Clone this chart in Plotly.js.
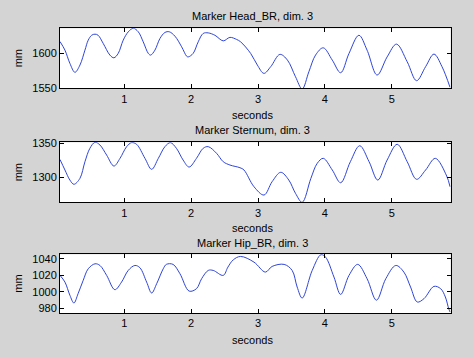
<!DOCTYPE html>
<html><head><meta charset="utf-8">
<script src="https://cdn.plot.ly/plotly-3.0.1.min.js"></script>
<style>html,body{margin:0;padding:0;background:#d4d4d4;}#plot{width:474px;height:357px;}</style>
</head><body><div id="plot"></div>
<script>
const titles = ["Marker Head_BR, dim. 3", "Marker Sternum, dim. 3", "Marker Hip_BR, dim. 3"];
const xLabel = "seconds";
const yLabel = "mm";
const xTicks = [1, 2, 3, 4, 5];
const headTicks = [1550, 1600];
const sternumTicks = [1300, 1350];
const hipTicks = [980, 1000, 1020, 1040];

const headT = [0.04,0.114,0.188,0.263,0.338,0.413,0.462,0.513,0.563,0.61,0.686,0.786,0.846,0.91,0.985,1.06,1.135,1.21,1.284,1.36,1.395,1.459,1.534,1.608,1.673,1.758,1.858,1.933,1.957,2.03,2.106,2.18,2.256,2.356,2.48,2.58,2.68,2.74,2.89,2.99,3.088,3.19,3.327,3.44,3.56,3.66,3.76,3.86,3.975,4.11,4.235,4.36,4.508,4.63,4.78,4.93,5.07,5.23,5.37,5.505,5.63,5.75,5.87];
const headMm = [1617,1604.7,1585.7,1572.9,1583.3,1604.7,1619,1626,1627.6,1626,1614.3,1597.6,1593.7,1600,1619,1630.9,1636,1631,1616.6,1600,1597.6,1604.7,1621.4,1630,1631,1624.7,1609.5,1596,1595,1600,1616.6,1628.6,1629.4,1626,1618,1623,1620,1616.6,1600,1583.3,1571.4,1581,1598.6,1590.4,1566.6,1549,1573.7,1597.6,1608,1590.4,1572.3,1600,1626,1604.7,1569,1595,1613.3,1588,1560.9,1581,1599,1581,1551.4];

const sternumT = [0.04,0.114,0.188,0.248,0.338,0.413,0.487,0.563,0.637,0.737,0.846,0.937,1.036,1.11,1.185,1.31,1.41,1.51,1.608,1.69,1.78,1.88,1.97,2.08,2.18,2.256,2.38,2.48,2.58,2.73,2.79,2.94,3.09,3.21,3.34,3.46,3.56,3.66,3.79,3.885,3.975,4.11,4.235,4.38,4.52,4.66,4.79,4.93,5.08,5.23,5.37,5.505,5.65,5.82,5.87];
const sternumMm = [1326,1310.4,1295.5,1289.2,1298,1322.7,1342.6,1351.5,1347.5,1332.6,1316.3,1327.7,1345,1351,1348.5,1327.7,1311.4,1327.7,1345,1351,1342.6,1325.2,1314.8,1327.7,1342.6,1345,1335.2,1322.7,1317.8,1313.8,1310.4,1285.6,1273.3,1293,1307,1295.5,1275.8,1262.5,1298,1320.3,1327.7,1310.4,1291.5,1322.7,1346.4,1322.7,1295.5,1325.2,1348.5,1322.7,1296.6,1310.4,1327.7,1301.5,1285.6];

const hipT = [0.04,0.114,0.188,0.248,0.31,0.387,0.462,0.563,0.637,0.737,0.86,0.96,1.06,1.16,1.235,1.335,1.41,1.485,1.583,1.63,1.73,1.833,1.97,2.08,2.157,2.256,2.33,2.48,2.55,2.63,2.74,2.94,3.11,3.21,3.39,3.51,3.585,3.66,3.81,3.94,4.01,4.135,4.235,4.36,4.49,4.63,4.77,4.91,5.06,5.18,5.28,5.38,5.48,5.63,5.73,5.80,5.85,5.87];
const hipMm = [1020,1011.9,995.9,986.6,997.8,1014,1028,1034,1032,1020,1002.7,1011.9,1026,1032,1029.2,1011.9,998.7,1009.9,1028,1033.3,1033.3,1022,1001,1003.9,1016,1026,1026,1020,1030,1038.8,1042.9,1036,1024,1030.8,1033.3,1026,1005.9,992.6,1026,1045,1042,1018,997,1020,1033.3,1016,990,1016,1032,1024,1005.9,987.8,991.8,1006.7,1003.9,993.9,979.8,975.8];

const W = 474, H = 357;
const px = x => x / W;
const py = y => 1 - y / H;
const xDom = [px(60), px(450.7)];
const panels = [
  {top: 28.3, bottom: 88.3, range: [1550, 1636], ticks: headTicks, t: headT, v: headMm, titleY: 16, labY: 115},
  {top: 142.3, bottom: 202.3, range: [1262.5, 1351.5], ticks: sternumTicks, t: sternumT, v: sternumMm, titleY: 130, labY: 228.3},
  {top: 254.3, bottom: 313, range: [974.5, 1045.5], ticks: hipTicks, t: hipT, v: hipMm, titleY: 242.7, labY: 340.3}
];
const font = {family: "Liberation Sans, Arial, sans-serif", size: 11, color: "#000"};
const traces = [];
const layout = {
  width: W, height: H, margin: {l: 0, r: 0, t: 0, b: 0},
  paper_bgcolor: "#d4d4d4", plot_bgcolor: "#ffffff",
  showlegend: false, font: font, annotations: []
};
panels.forEach((p, i) => {
  const n = i === 0 ? "" : String(i + 1);
  traces.push({x: p.t, y: p.v, xaxis: "x" + n, yaxis: "y" + n, type: "scatter", mode: "lines",
    line: {color: "#2f45d6", width: 1, shape: "spline", smoothing: 1}, hoverinfo: "none"});
  const common = {showline: true, linecolor: "#000", linewidth: 1, mirror: "ticks", ticks: "inside",
    ticklen: 4, tickcolor: "#000", showgrid: false, zeroline: false, tickfont: font};
  layout["xaxis" + n] = Object.assign({}, common, {domain: xDom, range: [0.04, 5.88], tickvals: xTicks,
    ticktext: xTicks.map(String), anchor: "y" + n});
  layout["yaxis" + n] = Object.assign({}, common, {domain: [py(p.bottom), py(p.top)], range: p.range,
    tickvals: p.ticks, ticktext: p.ticks.map(String), anchor: "x" + n});
  const cx = (xDom[0] + xDom[1]) / 2 - px(3);
  layout.annotations.push({text: titles[i], x: cx, y: py(p.titleY), xref: "paper", yref: "paper",
    xanchor: "center", yanchor: "middle", showarrow: false, font: font});
  layout.annotations.push({text: xLabel, x: cx, y: py(p.labY), xref: "paper", yref: "paper",
    xanchor: "center", yanchor: "middle", showarrow: false, font: font});
  layout.annotations.push({text: yLabel, x: px(18), y: py((p.top + p.bottom) / 2), xref: "paper", yref: "paper",
    xanchor: "center", yanchor: "middle", textangle: -90, showarrow: false, font: font});
});
Plotly.newPlot("plot", traces, layout, {staticPlot: true, displayModeBar: false});
</script></body></html>
